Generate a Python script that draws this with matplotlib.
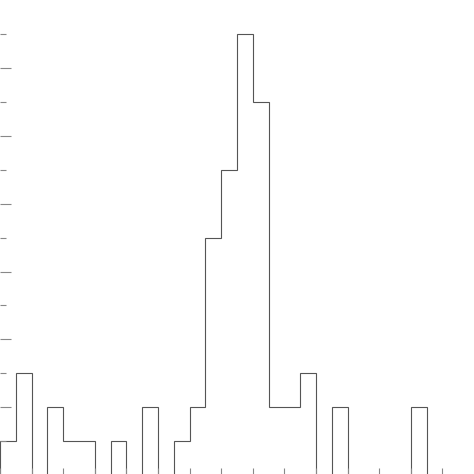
import numpy as np
import matplotlib
matplotlib.use('Agg')
import matplotlib.pyplot as plt
from matplotlib.ticker import FixedLocator

# counts per bin (bin width = 1 unit)
bin_edges = np.arange(0, 31)
counts = [1, 3, 0, 2, 1, 1, 0, 1, 0, 2,
          0, 1, 2, 7, 9, 13, 11, 2, 2, 3,
          0, 2, 0, 0, 0, 0, 2, 0, 0, 0]
x_ticks = list(range(0, 30, 2))
y_major = [2, 4, 6, 8, 10, 12]
y_minor = [1, 3, 5, 7, 9, 11, 13]

fig = plt.figure(figsize=(4.74, 4.74), dpi=100)
ax = fig.add_axes((0, 0, 1, 1))

ax.stairs(counts, bin_edges, color='#555555', lw=0.8)

# bottom of the view sits just above zero so the baseline stays hidden
ax.set_xlim(0, 30)
ax.set_ylim(0.035, 14.0)

for s in ax.spines.values():
    s.set_visible(False)

ax.xaxis.set_major_locator(FixedLocator(x_ticks))
ax.yaxis.set_major_locator(FixedLocator(y_major))
ax.yaxis.set_minor_locator(FixedLocator(y_minor))
ax.tick_params(axis='both', which='both', direction='in', color='#888888',
               labelbottom=False, labelleft=False, width=0.8)
ax.tick_params(axis='x', which='major', length=4)
ax.tick_params(axis='y', which='major', length=8)
ax.tick_params(axis='y', which='minor', length=4.5)

fig.savefig('out.png', dpi=100)
